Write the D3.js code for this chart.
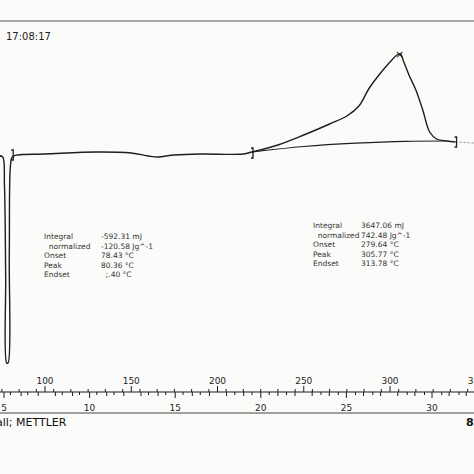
<!DOCTYPE html>
<html><head><meta charset="utf-8">
<script src="https://cdn.jsdelivr.net/npm/d3@7"></script>
<style>body{margin:0;background:#fbfbf9}</style>
</head><body><div id="chart"></div>
<script>
// DSC curve (temperature °C, heat flow arbitrary mW)
const temps = [73.5,75.5,76.5,77.2,77.8,78.6,79.3,80,81,84,100,130,150,160,165,175,190,215,220,235,250,265,275,282,288,295,300,304,306,308,311,315,319,323,327,333,338];
const heat  = [-0.1,-0.2,-3,-12,-20.8,-20.8,-10,-1,-0.2,0,0.1,0.3,0.2,-0.1,-0.2,0,0.1,0.1,0.3,1.0,2.0,3.1,3.9,4.9,6.7,8.3,9.3,10.0,10.1,9.3,8.0,6.5,4.5,2.3,1.6,1.4,1.3];
const baseT = [220,250,280,310,333];
const baseH = [0.3,0.9,1.2,1.4,1.4];
const tempTicks = [100,150,200,250,300,350];
const timeTicks = [5,10,15,20,25,30];
const left1 = ['Integral','  normalized','Onset','Peak','Endset'];
const vals1 = ['-592.31 mJ','-120.58 Jg^-1','78.43 °C','80.36 °C','  ;.40 °C'];
const vals2 = ['3647.06 mJ','742.48 Jg^-1','279.64 °C','305.77 °C','313.78 °C'];

const W = 474, H = 474;
const svg = d3.select('#chart').append('svg').attr('width', W).attr('height', H)
  .style('font-family', 'DejaVu Sans, sans-serif');
const x = d3.scaleLinear().domain([100, 300]).range([45, 390]);
const xt = d3.scaleLinear().domain([5, 30]).range([4, 432]);
const y = d3.scaleLinear().domain([0, 10]).range([155, 55]);
const ink = '#1e1e1e';

svg.append('line').attr('x1', 0).attr('x2', W).attr('y1', 21).attr('y2', 21).attr('stroke', '#555');
svg.append('text').attr('x', 6).attr('y', 40).attr('font-size', 10).attr('fill', ink).text('17:08:17');

svg.append('path').attr('fill', 'none').attr('stroke', ink).attr('stroke-width', 1.4)
  .attr('d', d3.line().x(d => x(d[0])).y(d => y(d[1])).curve(d3.curveCatmullRom)(temps.map((t, i) => [t, heat[i]])));
svg.append('path').attr('fill', 'none').attr('stroke', ink).attr('stroke-width', 1.2)
  .attr('d', d3.line().x(d => x(d[0])).y(d => y(d[1])).curve(d3.curveBasis)(baseT.map((t, i) => [t, baseH[i]])));
// dotted tail
svg.append('line').attr('x1', x(338)).attr('x2', W).attr('y1', y(1.3)).attr('y2', y(1.2))
  .attr('stroke', '#888').attr('stroke-dasharray', '2,2');
svg.append('line').attr('x1', 0).attr('x2', x(75)).attr('y1', y(-0.1)).attr('y2', y(-0.1)).attr('stroke', ink);
// integration limit brackets
[[81,0],[220,0.2],[338,1.3]].forEach(([t, h]) => {
  svg.append('path').attr('fill', 'none').attr('stroke', ink).attr('stroke-width', 1.3)
    .attr('d', `M${x(t)-1},${y(h)-5}h2v10h-2`);
});
// peak marker
svg.append('text').attr('x', x(305.5)).attr('y', y(10.1) + 4).attr('text-anchor', 'middle')
  .attr('font-size', 11).attr('fill', ink).text('×');

// result boxes
function box(x0, x1, y0, vals) {
  const g = svg.append('g').attr('font-size', 7.5).attr('fill', '#333');
  left1.forEach((l, i) => {
    g.append('text').attr('x', x0).attr('y', y0 + i * 9.5).attr('xml:space', 'preserve').text(l);
    g.append('text').attr('x', x1).attr('y', y0 + i * 9.5).attr('xml:space', 'preserve').text(vals[i]);
  });
}
box(44, 101, 239, vals1);
box(313, 361, 228, vals2);

// temperature axis
const ya = 392;
svg.append('line').attr('x1', 0).attr('x2', W).attr('y1', ya).attr('y2', ya).attr('stroke', ink);
d3.range(70, 360, 5).forEach((t, i) => {
  const major = t % 50 === 0;
  svg.append('line').attr('x1', x(t)).attr('x2', x(t))
    .attr('y1', major ? ya - 6 : (i % 2 ? ya - 3 : ya)).attr('y2', major ? ya : (i % 2 ? ya : ya + 3))
    .attr('stroke', ink);
});
tempTicks.forEach(t => svg.append('text').attr('x', x(t)).attr('y', 384).attr('text-anchor', 'middle')
  .attr('font-size', 9).attr('fill', ink).text(t));

// time axis
svg.append('line').attr('x1', 0).attr('x2', W).attr('y1', 413).attr('y2', 413).attr('stroke', '#444');
d3.range(5, 34).forEach(m => svg.append('line').attr('x1', xt(m)).attr('x2', xt(m))
  .attr('y1', ya).attr('y2', ya + (m % 5 === 0 ? 6 : 4)).attr('stroke', ink));
timeTicks.forEach(m => svg.append('text').attr('x', xt(m)).attr('y', 411).attr('text-anchor', 'middle')
  .attr('font-size', 9).attr('fill', ink).text(m));
svg.append('text').attr('x', -4).attr('y', 426).attr('font-size', 11).attr('fill', '#111').text('all; METTLER');
svg.append('text').attr('x', 466).attr('y', 426).attr('font-size', 11).attr('font-weight', 'bold').attr('fill', '#111').text('8');
</script></body></html>
